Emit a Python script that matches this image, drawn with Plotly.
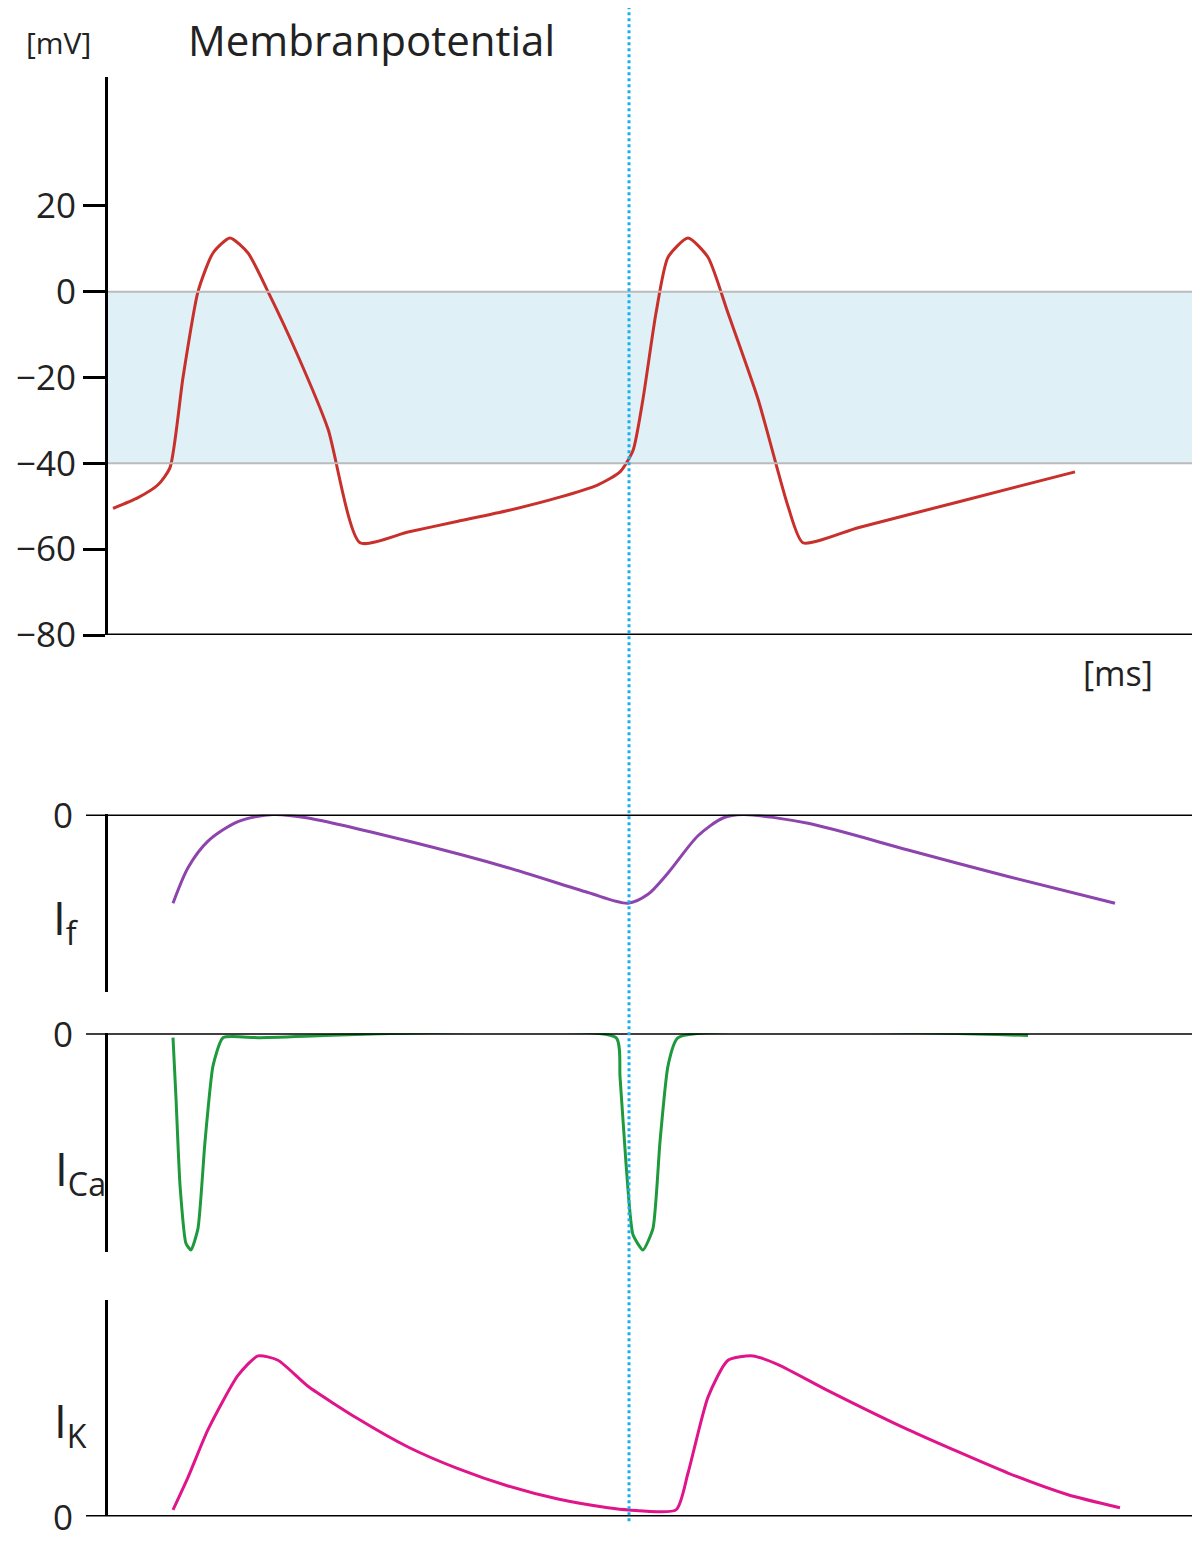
import plotly.graph_objects as go

# time axis in arbitrary ms units (left edge of plot = 100)
vm_t = [105, 130, 150, 162, 175, 190, 205, 222, 240, 260, 290, 320, 352, 400, 450, 500, 550, 590, 612,
        625, 635, 648, 660, 680, 700, 720, 750, 780, 795, 850, 950, 1067]
vm_v = [-50.5, -48, -45, -41, -20, 0, 9, 12.5, 9, 0, -15, -32, -58.5, -56, -53.5, -51, -48, -45, -42,
        -37, -25, -5, 8, 12.5, 8, -5, -25, -50, -58.5, -55, -49, -42]

if_t = [165, 180, 200, 230, 265, 300, 400, 500, 580, 620, 640, 660, 690, 715, 735, 800, 900, 1000, 1107]
if_v = [-0.5, -0.3, -0.15, -0.04, 0, -0.02, -0.15, -0.3, -0.44, -0.5, -0.45, -0.33, -0.12, -0.02, 0,
        -0.05, -0.2, -0.35, -0.5]

ica_t = [165, 168, 172, 178, 183, 190, 197, 205, 215, 250, 608, 612, 618, 625, 635, 645, 652, 660, 670, 1020]
ica_v = [-0.02, -0.3, -0.7, -0.97, -1, -0.9, -0.5, -0.15, -0.02, -0.02, -0.02, -0.2, -0.6, -0.93, -1,
         -0.9, -0.5, -0.15, -0.02, -0.01]

ik_t = [165, 180, 200, 230, 250, 270, 300, 350, 400, 450, 500, 550, 600, 621, 668, 680, 700, 720, 745,
        770, 820, 900, 1000, 1060, 1112]
ik_v = [0.03, 0.18, 0.4, 0.65, 0.74, 0.72, 0.6, 0.45, 0.32, 0.22, 0.14, 0.08, 0.04, 0.03, 0.03, 0.2, 0.55,
        0.72, 0.74, 0.7, 0.58, 0.4, 0.2, 0.1, 0.04]

mv_ticks = [20, 0, -20, -40, -60, -80]
marker_t = 621

H = 1559
def fy(px):
    return 1 - px / H

FONT = "Open Sans"
fig = go.Figure()
fig.add_trace(go.Scatter(x=vm_t, y=vm_v, mode="lines",
                         line=dict(color="#c8302c", width=3, shape="spline", smoothing=0.6),
                         xaxis="x", yaxis="y"))
fig.add_trace(go.Scatter(x=if_t, y=if_v, mode="lines",
                         line=dict(color="#8e44ad", width=3, shape="spline", smoothing=0.8),
                         xaxis="x2", yaxis="y2"))
fig.add_trace(go.Scatter(x=ica_t, y=ica_v, mode="lines",
                         line=dict(color="#1e9a3c", width=3, shape="spline", smoothing=0.5),
                         xaxis="x3", yaxis="y3"))
fig.add_trace(go.Scatter(x=ik_t, y=ik_v, mode="lines",
                         line=dict(color="#e0158a", width=3, shape="spline", smoothing=0.6),
                         xaxis="x4", yaxis="y4"))

xcommon = dict(range=[100, 1200], domain=[100 / 1200, 1], visible=False, fixedrange=True)
ycommon = dict(showline=True, linecolor="black", linewidth=3, showgrid=False, zeroline=False,
               ticks="outside", ticklen=22, tickwidth=3, tickcolor="black",
               tickfont=dict(family=FONT, size=35, color="#222"))

shapes = [
    dict(type="rect", xref="paper", yref="y", x0=100 / 1200, x1=1, y0=-40, y1=0,
         fillcolor="#dff0f7", line_width=0, layer="below"),
    dict(type="line", xref="paper", yref="y", x0=100 / 1200, x1=1, y0=0, y1=0, line=dict(color="#bbbbbb", width=2)),
    dict(type="line", xref="paper", yref="y", x0=100 / 1200, x1=1, y0=-40, y1=-40, line=dict(color="#bbbbbb", width=2)),
    dict(type="line", xref="paper", yref="y", x0=100 / 1200, x1=1, y0=-80, y1=-80, line=dict(color="black", width=3)),
    dict(type="line", xref="paper", yref="y2", x0=78 / 1200, x1=1, y0=0, y1=0, line=dict(color="black", width=3)),
    dict(type="line", xref="paper", yref="y3", x0=78 / 1200, x1=1, y0=0, y1=0, line=dict(color="black", width=3)),
    dict(type="line", xref="paper", yref="y4", x0=78 / 1200, x1=1, y0=0, y1=0, line=dict(color="black", width=3)),
    dict(type="line", xref="x", yref="paper", x0=marker_t, x1=marker_t, y0=fy(1535), y1=1,
         line=dict(color="#1ab0ee", width=3, dash="dot")),
]

ann = [
    dict(text="[mV]", x=50 / 1200, y=fy(35), size=30),
    dict(text="Membranpotential", x=363 / 1200, y=fy(32), size=42),
    dict(text="[ms]", x=1110 / 1200, y=fy(675), size=34),
    dict(text="I<sub>f</sub>", x=58 / 1200, y=fy(925), size=46),
    dict(text="I<sub>Ca</sub>", x=72 / 1200, y=fy(1180), size=46),
    dict(text="I<sub>K</sub>", x=62 / 1200, y=fy(1435), size=46),
    dict(text="0", x=55 / 1200, y=fy(818), size=35),
    dict(text="0", x=55 / 1200, y=fy(1040), size=35),
    dict(text="0", x=55 / 1200, y=fy(1530), size=35),
]
annotations = [dict(text=a["text"], x=a["x"], y=a["y"], xref="paper", yref="paper", showarrow=False,
                    xanchor="center", yanchor="middle",
                    font=dict(family=FONT, size=a["size"], color="#222")) for a in ann]

fig.update_layout(
    width=1200, height=H, margin=dict(l=0, r=0, t=0, b=0), showlegend=False,
    plot_bgcolor="white", paper_bgcolor="white",
    xaxis=dict(**xcommon, anchor="y"),
    xaxis2=dict(**xcommon, anchor="y2"),
    xaxis3=dict(**xcommon, anchor="y3"),
    xaxis4=dict(**xcommon, anchor="y4"),
    yaxis=dict(**ycommon, range=[-80, 50], domain=[fy(636), fy(70)], tickvals=mv_ticks, anchor="x"),
    yaxis2=dict(**ycommon, range=[-1, 0], domain=[fy(998), fy(818)], showticklabels=False, tickvals=[], anchor="x2"),
    yaxis3=dict(**ycommon, range=[-1.01, 0], domain=[fy(1262), fy(1040)], showticklabels=False, tickvals=[], anchor="x3"),
    yaxis4=dict(**ycommon, range=[0, 1], domain=[fy(1530), fy(1310)], showticklabels=False, tickvals=[], anchor="x4"),
    shapes=shapes, annotations=annotations,
)

fig.write_html("out.html")
